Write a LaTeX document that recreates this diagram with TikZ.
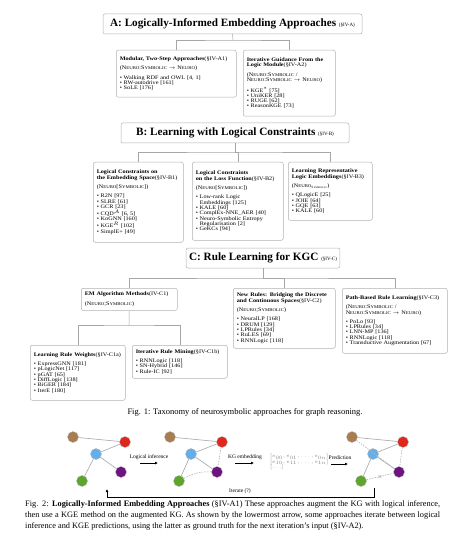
\documentclass[tikz,border=0pt]{standalone}
\usepackage{fontspec}
\setmainfont{Liberation Serif}
\newfontfamily\boxfont[FakeStretch=1.15]{Liberation Serif}
\usetikzlibrary{arrows.meta,calc}
\newcommand\fsc[2]{#1\scalebox{0.78}{#2}}
\newcommand\NS{\fsc{N}{EURO}}
\newcommand\SY{\fsc{S}{YMBOLIC}}
\newcommand\bl{\textbullet\ }
\newcommand\ind{\hspace*{0.75em}}
\tikzset{
  titlebox/.style={draw=gray!60, line width=0.5pt, rounded corners=2pt, fill=white, inner xsep=3pt, inner ysep=2pt, font=\fontsize{11.2}{12}\selectfont\bfseries},
  catbox/.style={draw=gray!60, line width=0.5pt, rounded corners=2pt, fill=white, align=left, anchor=north west, inner xsep=3.5pt, inner ysep=4pt, font=\boxfont\fontsize{5.4}{5.3}\selectfont},
  link/.style={draw=gray!70, line width=0.5pt},
  gn/.style={circle, draw=gray!60, line width=0.3pt, minimum size=11pt, inner sep=0pt},
  ge/.style={draw=gray!70, line width=0.6pt},
  gd/.style={draw=gray!60, line width=0.6pt, dashed, dash pattern=on 1.5pt off 1.2pt},
  bigarrow/.style={-{Latex[length=3pt,width=3pt]}, line width=1pt},
  lbl/.style={font=\fontsize{5.5}{6}\selectfont, inner sep=1pt},
}
\definecolor{gbrown}{RGB}{168,126,80}
\definecolor{gred}{RGB}{222,40,30}
\definecolor{gblue}{RGB}{100,175,235}
\definecolor{gpurple}{RGB}{110,20,130}
\definecolor{ggreen}{RGB}{95,165,45}
\begin{document}
\begin{tikzpicture}[x=1pt,y=-1pt]
\useasboundingbox (0,0) rectangle (474,540);
\fill[white] (0,0) rectangle (474,540);
% ---------- A ----------
\node[titlebox, minimum width=259pt, minimum height=20pt] (A) at (232.5,24) {A: Logically-Informed Embedding Approaches {\fontsize{5}{6}\selectfont\mdseries(\S IV-A)}};
\node[catbox, text width=113pt, minimum height=47pt] (a1) at (116,50) {\textbf{Modular, Two-Step Approaches}(\S IV-A1)\\[4pt]
(\NS:\SY{} $\rightarrow$ \NS)\\[4pt]
\bl Walking RDF and OWL [4, 1]\\
\bl RW-autodrive [161]\\
\bl SoLE [176]};
\node[catbox, text width=85pt, minimum height=66pt] (a2) at (243,50) {\textbf{Iterative Guidance From the}\\\textbf{Logic Module}(\S IV-A2)\\[4pt]
(\NS:\SY{} /\\\NS:\SY{} $\rightarrow$ \NS)\\[4pt]
\bl KGE$^{*}$ [75]\\
\bl UniKER [28]\\
\bl RUGE [62]\\
\bl ReasonKGE [73]};
\coordinate (jA) at (233,40);
\draw[link] (A.south) -- (jA);
\draw[link] (a1.north) |- (jA) -| (a2.north);
% ---------- B ----------
\node[titlebox, minimum width=228pt, minimum height=20pt] (B) at (235,133) {B: Learning with Logical Constraints {\fontsize{5}{6}\selectfont\mdseries(\S IV-B)}};
\node[catbox, text width=83pt, minimum height=80pt] (b1) at (93,162) {\textbf{Logical Constraints on}\\\textbf{the Embedding Space}(\S IV-B1)\\[4pt]
(\NS[\SY])\\[4pt]
\bl R2N [97]\\
\bl SLRE [61]\\
\bl GCR [23]\\
\bl CQD$^{\mathcal{A}}$ [6, 5]\\
\bl KoGNN [160]\\
\bl KGE$^{R}$ [102]\\
\bl SimplE+ [49]};
\node[catbox, text width=84pt, minimum height=78pt] (b2) at (192,162) {\textbf{Logical Constraints}\\\textbf{on the Loss Function}(\S IV-B2)\\[4pt]
(\NS[\SY])\\[4pt]
\bl Low-rank Logic\\\ind Embeddings [125]\\
\bl KALE [60]\\
\bl ComplEx-NNE\_AER [40]\\
\bl Neuro-Symbolic Entropy\\\ind Regularisation [2]\\
\bl GeKCs [94]};
\node[catbox, text width=77pt, minimum height=58pt] (b3) at (288,162) {\textbf{Learning Representative}\\\textbf{Logic Embeddings}(\S IV-B3)\\[4pt]
(\NS$_{\scalebox{0.6}{\SY}}$)\\[4pt]
\bl QLogicE [25]\\
\bl JOIE [64]\\
\bl GQE [63]\\
\bl KALE [60]};
\coordinate (jB) at (235,152);
\draw[link] (B.south) -- (jB);
\draw[link] (b1.north) |- (jB) -| (b3.north);
\draw[link] (jB) -| (b2.north);
% ---------- C ----------
\node[titlebox, minimum width=151pt, minimum height=20pt] (C) at (263,258) {C: Rule Learning for KGC {\fontsize{5}{6}\selectfont\mdseries(\S IV-C)}};
\node[catbox, text width=89pt, minimum height=22pt] (c1) at (81,288) {\textbf{EM Algorithm Methods}(IV-C1)\\[4pt]
(\NS;\SY)};
\node[catbox, text width=95pt, minimum height=60pt] (c2) at (233,288) {\textbf{New Rules: Bridging the Discrete}\\\textbf{and Continuous Spaces}(\S IV-C2)\\[4pt]
(\NS;\SY)\\[4pt]
\bl NeuralLP [168]\\
\bl DRUM [129]\\
\bl LPRules [34]\\
\bl RuLES [69]\\
\bl RNNLogic [118]};
\node[catbox, text width=98pt, minimum height=65pt] (c3) at (342,288) {\textbf{Path-Based Rule Learning}(\S IV-C3)\\[4pt]
(\NS:\SY{} /\\\NS:\SY{} $\rightarrow$ \NS)\\[4pt]
\bl PoLo [93]\\
\bl LPRules [34]\\
\bl LNN-MP [136]\\
\bl RNNLogic [118]\\
\bl Transductive Augmentation [67]};
\node[catbox, text width=88pt, minimum height=55pt] (c1a) at (30,345) {\textbf{Learning Rule Weights}(\S IV-C1a)\\[4pt]
\bl ExpressGNN [181]\\
\bl pLogicNet [117]\\
\bl pGAT [65]\\
\bl DiffLogic [138]\\
\bl BiGER [184]\\
\bl IterE [180]};
\node[catbox, text width=88pt, minimum height=33pt] (c1b) at (132,345) {\textbf{Iterative Rule Mining}(\S IV-C1b)\\[4pt]
\bl RNNLogic [118]\\
\bl SN-Hybrid [146]\\
\bl Rule-IC [92]};
\coordinate (jC) at (263,278);
\draw[link] (C.south) -- (jC);
\draw[link] (c1.north) |- (jC) -| (c3.north);
\draw[link] (jC) -| (c2.north);
\coordinate (jC1) at (129,325);
\draw[link] (c1.south) -- (jC1);
\draw[link] (c1a.north) |- (jC1) -| (c1b.north);
% ---------- Fig 1 caption ----------
\node[font=\fontsize{8.5}{10}\selectfont, inner sep=0pt] (cap1) at (245,412) {Fig. 1: Taxonomy of neurosymbolic approaches for graph reasoning.};
% ---------- Fig 2 ----------
\node[gn, fill=gbrown]  (p1) at (73,437) {};
\node[gn, fill=gred]    (p2) at (125,442) {};
\node[gn, fill=gblue]   (p3) at (96,454) {};
\node[gn, fill=gpurple] (p4) at (121,472) {};
\node[gn, fill=ggreen]  (p5) at (82,481) {};
\draw[ge] (p1) -- (p2); \draw[ge] (p2) -- (p3); \draw[ge] (p3) -- (p4); \draw[ge] (p3) -- (p5);
\node[gn, fill=gbrown]  (q1) at (170,437) {};
\node[gn, fill=gred]    (q2) at (222,442) {};
\node[gn, fill=gblue]   (q3) at (191,454) {};
\node[gn, fill=gpurple] (q4) at (217,472) {};
\node[gn, fill=ggreen]  (q5) at (179,481) {};
\draw[ge] (q1) -- (q2); \draw[ge] (q2) -- (q3); \draw[ge] (q3) -- (q4); \draw[ge] (q3) -- (q5);
\draw[gd] (q2) -- (q4);
\draw[gd] (q5) to[bend left=15] (q4);
\node[gn, fill=gbrown]  (r1) at (352,437) {};
\node[gn, fill=gred]    (r2) at (403,442) {};
\node[gn, fill=gblue]   (r3) at (373,454) {};
\node[gn, fill=gpurple] (r4) at (399,472) {};
\node[gn, fill=ggreen]  (r5) at (361,481) {};
\draw[ge] (r1) -- (r2); \draw[ge] (r2) -- (r3); \draw[ge] (r3) -- (r4); \draw[ge] (r3) -- (r5);
\draw[gd] (r2) -- (r4);
\draw[gd] (r1) -- (r4);
\draw[gd] (r5) -- (r4) node[midway, font=\fontsize{6}{6}\selectfont, text=gray] (xx) {$\times$};
% labels and arrows
\node[lbl] (li) at (149,457) {Logical inference};
\coordinate (li1) at (140,463); \coordinate (li2) at (158,463);
\draw[bigarrow] (li1) -- (li2);
\node[lbl] (ke) at (245,457) {KG embedding};
\coordinate (ke1) at (235,463); \coordinate (ke2) at (254,463);
\draw[bigarrow] (ke1) -- (ke2);
\node[lbl, text=gray, align=left, anchor=west, font=\fontsize{4.3}{5.5}\selectfont] (mat) at (269,462) {$[e_{00},e_{01},\ldots,e_{0n}]$\\$[e_{10},e_{11},\ldots,e_{1n}]$\\$[\ldots]$};
\node[lbl] (pr) at (340,458) {Prediction};
\coordinate (pr1) at (331,464); \coordinate (pr2) at (348,464);
\draw[bigarrow] (pr1) -- (pr2);
\coordinate (it1) at (374,488); \coordinate (it2) at (374,497);
\coordinate (it3) at (107,497); \coordinate (it4) at (107,489);
\draw[-{Latex[length=3pt,width=3pt]}, line width=0.9pt] (it1) -- (it2) -- (it3) -- (it4);
\node[lbl, anchor=south west] (itl) at (228,495) {Iterate (?)};
% ---------- Fig 2 caption ----------
\node[anchor=north west, text width=415pt, align=justify, inner sep=0pt, font=\fontsize{8.3}{11}\selectfont] (cap2) at (25,500.5) {Fig. 2: \textbf{Logically-Informed Embedding Approaches} (\S IV-A1) These approaches augment the KG with logical inference, then use a KGE method on the augmented KG. As shown by the lowermost arrow, some approaches iterate between logical inference and KGE predictions, using the latter as ground truth for the next iteration's input (\S IV-A2).};
\end{tikzpicture}
\end{document}
